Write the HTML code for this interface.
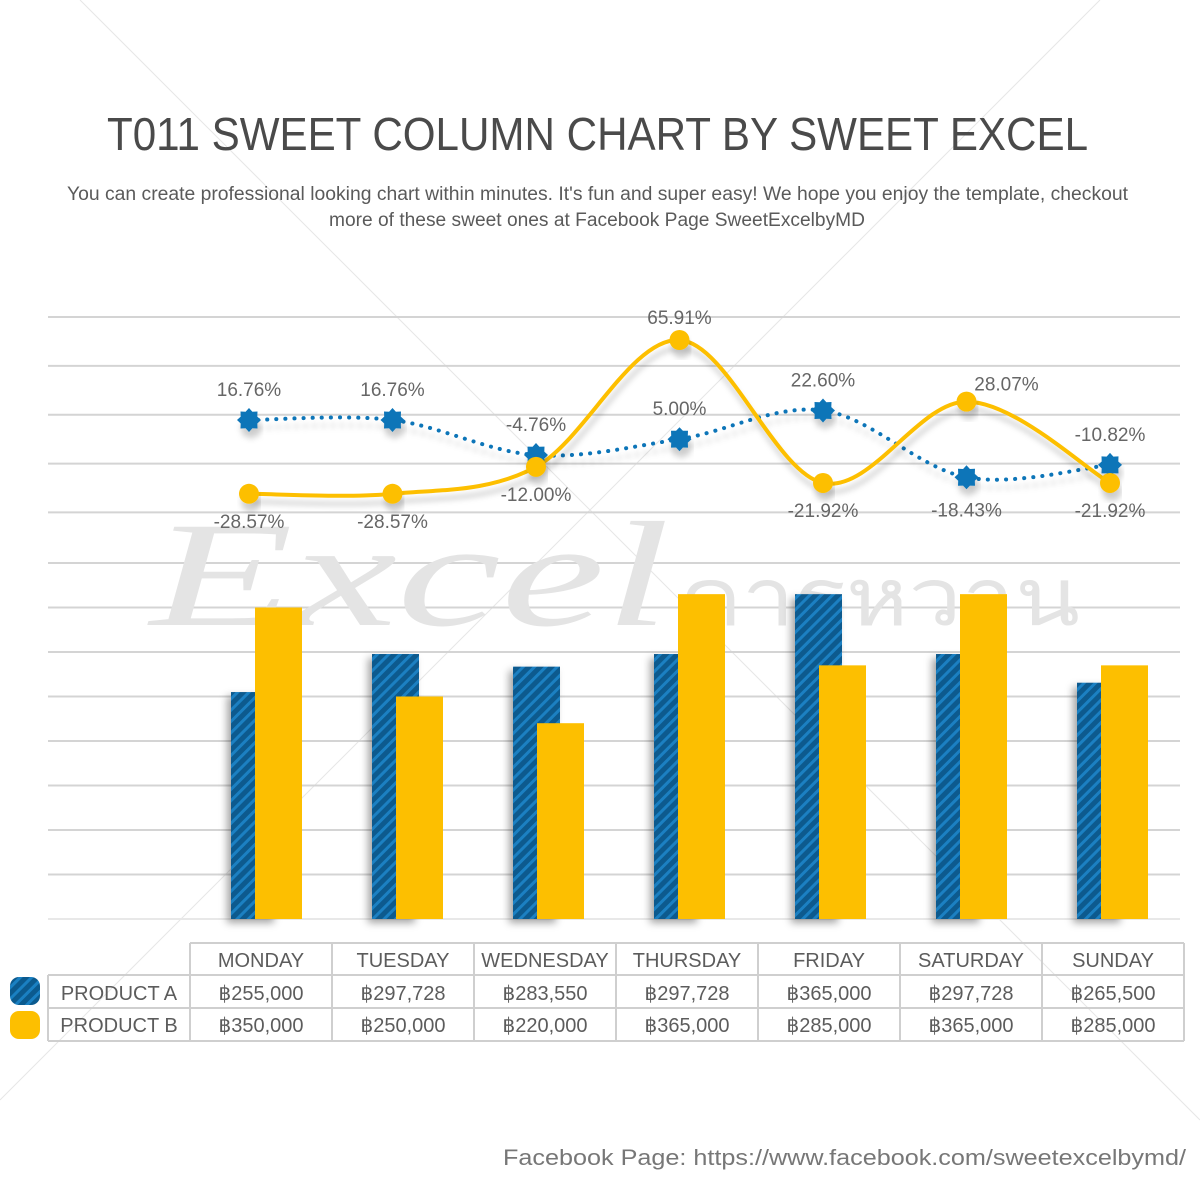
<!DOCTYPE html>
<html><head><meta charset="utf-8"><style>
html,body{margin:0;padding:0;background:#fff;}
svg{display:block;font-family:"Liberation Sans","Noto Sans CJK SC",sans-serif;}
</style></head><body>
<svg id="chart" width="1200" height="1200" viewBox="0 0 1200 1200" xmlns="http://www.w3.org/2000/svg">
<defs>
<pattern id="stripes" patternUnits="userSpaceOnUse" width="8" height="8" patternTransform="rotate(45)">
<rect width="8" height="8" fill="#0b5a8e"/><rect width="3" height="8" fill="#1a80c2"/>
</pattern>
<filter id="shadow" x="-30%" y="-30%" width="160%" height="160%"><feDropShadow dx="-4" dy="4" stdDeviation="4" flood-color="#000" flood-opacity="0.35"/></filter>
<filter id="lshadow" x="-10%" y="-30%" width="120%" height="180%"><feDropShadow dx="2" dy="8" stdDeviation="3" flood-color="#000" flood-opacity="0.18"/></filter>
</defs>
<line x1="80" y1="0" x2="1200" y2="1120" stroke="#e6e6e6" stroke-width="1"/>
<line x1="1100" y1="0" x2="0" y2="1100" stroke="#e6e6e6" stroke-width="1"/>
<text x="107" y="150" font-size="46" fill="#4a4a4a" textLength="981" lengthAdjust="spacingAndGlyphs">T011 SWEET COLUMN CHART BY SWEET EXCEL</text>
<text x="67" y="200" font-size="19" fill="#5a5a5a" textLength="1061" lengthAdjust="spacingAndGlyphs">You can create professional looking chart within minutes. It's fun and super easy! We hope you enjoy the template, checkout</text>
<text x="329" y="226" font-size="19" fill="#5a5a5a" textLength="536" lengthAdjust="spacingAndGlyphs">more of these sweet ones at Facebook Page SweetExcelbyMD</text>
<g id="grid"></g>
<text x="150" y="625" font-size="150" font-style="italic" fill="#e4e4e4" font-family="Liberation Serif,serif" textLength="520" lengthAdjust="spacingAndGlyphs">Excel</text>
<text x="680" y="625" font-size="80" fill="#e4e4e4" font-family="Noto Sans CJK SC,sans-serif" textLength="400" lengthAdjust="spacingAndGlyphs">ดารหวาน</text>
<g id="bars"></g>
<g id="lines"></g>
<g id="table"></g>
<text x="503" y="1165" font-size="22" fill="#777" textLength="683" lengthAdjust="spacingAndGlyphs">Facebook Page: https://www.facebook.com/sweetexcelbymd/</text>
</svg>
<script>
const days = ["MONDAY","TUESDAY","WEDNESDAY","THURSDAY","FRIDAY","SATURDAY","SUNDAY"];
const productA = [255000,297728,283550,297728,365000,297728,265500];
const productB = [350000,250000,220000,365000,285000,365000,285000];
const changeA = [16.76,16.76,-4.76,5.00,22.60,-18.43,-10.82];
const changeB = [-28.57,-28.57,-12.00,65.91,-21.92,28.07,-21.92];
const labelPosA = ["above","above","above","above","above","below","above"];
const labelPosB = ["below","below","below","above","below","above","below"];
const barTicks = [0,50000,100000,150000,200000,250000,300000,350000,400000];
const lineTicks = [-40,-10,20,50,80];

const NS="http://www.w3.org/2000/svg";
function mk(tag,attrs,parent){const e=document.createElementNS(NS,tag);for(const k in attrs)e.setAttribute(k,attrs[k]);parent.appendChild(e);return e;}
const yBar=v=>919-v*356/400000;
const yLine=v=>447.3-1.628*v;
const xBarGroup=i=>266.5+141*i;
const xLine=i=>249+143.5*i;
const fmt=v=>"฿"+v.toLocaleString("en-US");

const grid=document.getElementById("grid");
barTicks.forEach(t=>{if(t===0)return;const y=yBar(t);
 const l=mk("line",{x1:48,x2:1180,y1:y,y2:y,stroke:"#d4d4d4","stroke-width":2},grid);
 
 });
lineTicks.forEach(t=>{const y=yLine(t);
 const l=mk("line",{x1:48,x2:1180,y1:y,y2:y,stroke:"#d4d4d4","stroke-width":2},grid);
 
 });
const base=mk("line",{x1:48,x2:1180,y1:919,y2:919,stroke:"#e8e8e8","stroke-width":2},grid);



const bars=document.getElementById("bars");
days.forEach((d,i)=>{const cx=xBarGroup(i);
 const a=mk("rect",{x:cx-35.5,y:yBar(productA[i]),width:47,height:919-yBar(productA[i]),fill:"url(#stripes)",filter:"url(#shadow)"},bars);
 
 
 const b=mk("rect",{x:cx-11.5,y:yBar(productB[i]),width:47,height:919-yBar(productB[i]),fill:"#fdbf00"},bars);
 
 });

function smooth(pts){let d="M"+pts[0][0]+","+pts[0][1];
 for(let i=0;i<pts.length-1;i++){const p0=pts[i-1]||pts[i],p1=pts[i],p2=pts[i+1],p3=pts[i+2]||p2;
  const c1=[p1[0]+(p2[0]-p0[0])/6,p1[1]+(p2[1]-p0[1])/6],c2=[p2[0]-(p3[0]-p1[0])/6,p2[1]-(p3[1]-p1[1])/6];
  d+=" C"+c1+" "+c2+" "+p2;}return d;}
const lines=document.getElementById("lines");
const ptsA=changeA.map((v,i)=>[xLine(i),yLine(v)]);
const ptsB=changeB.map((v,i)=>[xLine(i),yLine(v)]);
const la=mk("path",{d:smooth(ptsA),fill:"none",stroke:"#0a74b8","stroke-width":4,"stroke-dasharray":"0.1 9","stroke-linecap":"round",filter:"url(#lshadow)"},lines);


const lb=mk("path",{d:smooth(ptsB),fill:"none",stroke:"#fdbf00","stroke-width":4,filter:"url(#lshadow)"},lines);


function star(cx,cy){let s="";for(let k=0;k<16;k++){const r=k%2?9:12,a=k*Math.PI/8;s+=(cx+r*Math.sin(a)).toFixed(1)+","+(cy-r*Math.cos(a)).toFixed(1)+" ";}return s;}
ptsA.forEach((p,i)=>{const m=mk("polygon",{points:star(p[0],p[1]),fill:"#0a74b8",filter:"url(#lshadow)"},lines);
 
 
 const t=mk("text",{x:p[0],y:p[1]+(labelPosA[i]==="above"?-24:39),"text-anchor":"middle","font-size":19,fill:"#666"},lines);
 t.textContent=changeA[i].toFixed(2)+"%";
 
 });
ptsB.forEach((p,i)=>{const m=mk("circle",{cx:p[0],cy:p[1],r:10,fill:"#fdbf00",filter:"url(#lshadow)"},lines);
 
 
 const t=mk("text",{x:p[0]+(labelPosB[i]==="above"&&i===5?40:0),y:p[1]+(labelPosB[i]==="above"?(i===5?-11:-16):34),"text-anchor":"middle","font-size":19,fill:"#666"},lines);
 t.textContent=changeB[i].toFixed(2)+"%";
 
 });

const tbl=document.getElementById("table");
const colX=i=>190+142*i;
function ln(x1,y1,x2,y2,n){const l=mk("line",{x1,y1,x2,y2,stroke:"#cfcfcf","stroke-width":2},tbl);
 
 }
ln(190,943,1184,943,'table-border');ln(48,975,1184,975,'table-border');ln(48,1008,1184,1008,'table-border');ln(48,1041,1184,1041,'table-border');
ln(48,975,48,1041,'table-border');
for(let i=0;i<=7;i++)ln(colX(i),943,colX(i),1041,'table-border');
function tx(x,y,s,n){const t=mk("text",{x,y,"text-anchor":"middle","font-size":20,fill:"#5c5c5c"},tbl);t.textContent=s;
 
 }
days.forEach((d,i)=>{const cx=colX(i)+71;
 tx(cx,967,d,'header-'+d.toLowerCase());
 tx(cx,1000,fmt(productA[i]),'cell-a-'+d.toLowerCase());
 tx(cx,1032,fmt(productB[i]),'cell-b-'+d.toLowerCase());});
tx(119,1000,"PRODUCT A",'row-label-product-a');tx(119,1032,"PRODUCT B",'row-label-product-b');
const s1=mk("rect",{x:10,y:977,width:30,height:28,rx:9,fill:"url(#stripes)"},tbl);


const s2=mk("rect",{x:10,y:1011,width:30,height:28,rx:9,fill:"#fdbf00"},tbl);


</script>
</body></html>
